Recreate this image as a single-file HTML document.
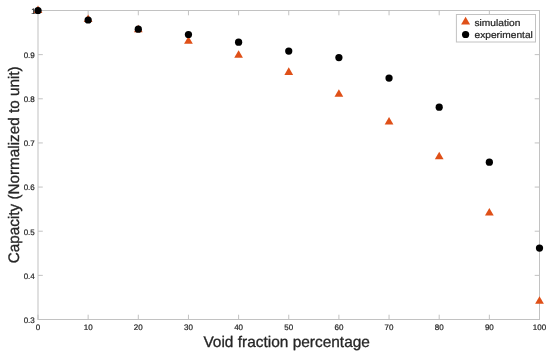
<!DOCTYPE html>
<html><head><meta charset="utf-8"><style>
html,body{margin:0;padding:0;background:#fff;}
body{width:550px;height:356px;overflow:hidden;}
svg{display:block;}
text{text-rendering:geometricPrecision;font-family:"Liberation Sans",Arial,Helvetica,sans-serif;fill:#262626;stroke:#262626;stroke-width:0.15px;}
.t{font-size:8px;stroke-width:0.22px;}
.l{font-size:10.2px;stroke-width:0.25px;}
.a{font-size:15.45px;stroke-width:0.3px;}
.b{font-size:15.28px;stroke-width:0.3px;}
</style></head><body>
<svg width="550" height="356" viewBox="0 0 550 356">
<rect x="38.0" y="10.5" width="501.50" height="309.00" fill="none" stroke="#c2c2c2" stroke-width="1"/>
<line x1="38.00" y1="319.5" x2="38.00" y2="314.70" stroke="#c2c2c2"/>
<line x1="38.00" y1="10.5" x2="38.00" y2="15.30" stroke="#c2c2c2"/>
<text x="38.00" y="330.00" text-anchor="middle" class="t">0</text>
<line x1="88.15" y1="319.5" x2="88.15" y2="314.70" stroke="#c2c2c2"/>
<line x1="88.15" y1="10.5" x2="88.15" y2="15.30" stroke="#c2c2c2"/>
<text x="88.15" y="330.00" text-anchor="middle" class="t">10</text>
<line x1="138.30" y1="319.5" x2="138.30" y2="314.70" stroke="#c2c2c2"/>
<line x1="138.30" y1="10.5" x2="138.30" y2="15.30" stroke="#c2c2c2"/>
<text x="138.30" y="330.00" text-anchor="middle" class="t">20</text>
<line x1="188.45" y1="319.5" x2="188.45" y2="314.70" stroke="#c2c2c2"/>
<line x1="188.45" y1="10.5" x2="188.45" y2="15.30" stroke="#c2c2c2"/>
<text x="188.45" y="330.00" text-anchor="middle" class="t">30</text>
<line x1="238.60" y1="319.5" x2="238.60" y2="314.70" stroke="#c2c2c2"/>
<line x1="238.60" y1="10.5" x2="238.60" y2="15.30" stroke="#c2c2c2"/>
<text x="238.60" y="330.00" text-anchor="middle" class="t">40</text>
<line x1="288.75" y1="319.5" x2="288.75" y2="314.70" stroke="#c2c2c2"/>
<line x1="288.75" y1="10.5" x2="288.75" y2="15.30" stroke="#c2c2c2"/>
<text x="288.75" y="330.00" text-anchor="middle" class="t">50</text>
<line x1="338.90" y1="319.5" x2="338.90" y2="314.70" stroke="#c2c2c2"/>
<line x1="338.90" y1="10.5" x2="338.90" y2="15.30" stroke="#c2c2c2"/>
<text x="338.90" y="330.00" text-anchor="middle" class="t">60</text>
<line x1="389.05" y1="319.5" x2="389.05" y2="314.70" stroke="#c2c2c2"/>
<line x1="389.05" y1="10.5" x2="389.05" y2="15.30" stroke="#c2c2c2"/>
<text x="389.05" y="330.00" text-anchor="middle" class="t">70</text>
<line x1="439.20" y1="319.5" x2="439.20" y2="314.70" stroke="#c2c2c2"/>
<line x1="439.20" y1="10.5" x2="439.20" y2="15.30" stroke="#c2c2c2"/>
<text x="439.20" y="330.00" text-anchor="middle" class="t">80</text>
<line x1="489.35" y1="319.5" x2="489.35" y2="314.70" stroke="#c2c2c2"/>
<line x1="489.35" y1="10.5" x2="489.35" y2="15.30" stroke="#c2c2c2"/>
<text x="489.35" y="330.00" text-anchor="middle" class="t">90</text>
<line x1="539.50" y1="319.5" x2="539.50" y2="314.70" stroke="#c2c2c2"/>
<line x1="539.50" y1="10.5" x2="539.50" y2="15.30" stroke="#c2c2c2"/>
<text x="539.50" y="330.00" text-anchor="middle" class="t">100</text>
<line x1="38.0" y1="319.50" x2="42.80" y2="319.50" stroke="#c2c2c2"/>
<line x1="539.5" y1="319.50" x2="534.70" y2="319.50" stroke="#c2c2c2"/>
<text x="34.80" y="322.90" text-anchor="end" class="t">0.3</text>
<line x1="38.0" y1="275.36" x2="42.80" y2="275.36" stroke="#c2c2c2"/>
<line x1="539.5" y1="275.36" x2="534.70" y2="275.36" stroke="#c2c2c2"/>
<text x="34.80" y="278.76" text-anchor="end" class="t">0.4</text>
<line x1="38.0" y1="231.21" x2="42.80" y2="231.21" stroke="#c2c2c2"/>
<line x1="539.5" y1="231.21" x2="534.70" y2="231.21" stroke="#c2c2c2"/>
<text x="34.80" y="234.61" text-anchor="end" class="t">0.5</text>
<line x1="38.0" y1="187.07" x2="42.80" y2="187.07" stroke="#c2c2c2"/>
<line x1="539.5" y1="187.07" x2="534.70" y2="187.07" stroke="#c2c2c2"/>
<text x="34.80" y="190.47" text-anchor="end" class="t">0.6</text>
<line x1="38.0" y1="142.93" x2="42.80" y2="142.93" stroke="#c2c2c2"/>
<line x1="539.5" y1="142.93" x2="534.70" y2="142.93" stroke="#c2c2c2"/>
<text x="34.80" y="146.33" text-anchor="end" class="t">0.7</text>
<line x1="38.0" y1="98.79" x2="42.80" y2="98.79" stroke="#c2c2c2"/>
<line x1="539.5" y1="98.79" x2="534.70" y2="98.79" stroke="#c2c2c2"/>
<text x="34.80" y="102.19" text-anchor="end" class="t">0.8</text>
<line x1="38.0" y1="54.64" x2="42.80" y2="54.64" stroke="#c2c2c2"/>
<line x1="539.5" y1="54.64" x2="534.70" y2="54.64" stroke="#c2c2c2"/>
<text x="34.80" y="58.04" text-anchor="end" class="t">0.9</text>
<line x1="38.0" y1="10.50" x2="42.80" y2="10.50" stroke="#c2c2c2"/>
<line x1="539.5" y1="10.50" x2="534.70" y2="10.50" stroke="#c2c2c2"/>
<text x="35.60" y="13.90" text-anchor="end" class="t">1</text>
<polygon points="38.00,5.45 33.63,13.03 42.37,13.03" fill="#df5018"/>
<polygon points="88.15,14.55 83.78,22.12 92.52,22.12" fill="#df5018"/>
<polygon points="138.30,24.75 133.93,32.33 142.67,32.33" fill="#df5018"/>
<polygon points="188.45,36.20 184.08,43.77 192.82,43.77" fill="#df5018"/>
<polygon points="238.60,50.25 234.23,57.82 242.97,57.82" fill="#df5018"/>
<polygon points="288.75,67.35 284.38,74.93 293.12,74.93" fill="#df5018"/>
<polygon points="338.90,89.25 334.53,96.83 343.27,96.83" fill="#df5018"/>
<polygon points="389.05,117.05 384.68,124.62 393.42,124.62" fill="#df5018"/>
<polygon points="439.20,151.65 434.83,159.22 443.57,159.22" fill="#df5018"/>
<polygon points="489.35,208.05 484.98,215.62 493.72,215.62" fill="#df5018"/>
<polygon points="539.50,296.15 535.13,303.72 543.87,303.72" fill="#df5018"/>
<circle cx="38.00" cy="10.50" r="3.62" fill="#000"/>
<circle cx="88.15" cy="20.00" r="3.62" fill="#000"/>
<circle cx="138.30" cy="29.20" r="3.62" fill="#000"/>
<circle cx="188.45" cy="34.50" r="3.62" fill="#000"/>
<circle cx="238.60" cy="42.20" r="3.62" fill="#000"/>
<circle cx="288.75" cy="51.10" r="3.62" fill="#000"/>
<circle cx="338.90" cy="57.60" r="3.62" fill="#000"/>
<circle cx="389.05" cy="78.10" r="3.62" fill="#000"/>
<circle cx="439.20" cy="107.20" r="3.62" fill="#000"/>
<circle cx="489.35" cy="162.20" r="3.62" fill="#000"/>
<circle cx="539.50" cy="248.10" r="3.62" fill="#000"/>
<rect x="456.4" y="14.5" width="79.1" height="27.5" fill="#fff" stroke="#c2c2c2"/>
<polygon points="465.60,16.80 461.10,24.60 470.10,24.60" fill="#df5018"/>
<circle cx="465.6" cy="34.5" r="3.62" fill="#000"/>
<text transform="translate(474.5 25.5) scale(1 0.93)" class="l">simulation</text>
<text transform="translate(474.5 38.3) scale(1 0.93)" class="l">experimental</text>
<text x="203.4" y="346.7" class="a">Void fraction percentage</text>
<text transform="translate(19.4 164.8) rotate(-90)" text-anchor="middle" class="b">Capacity (Normalized to unit)</text>
</svg>
</body></html>
